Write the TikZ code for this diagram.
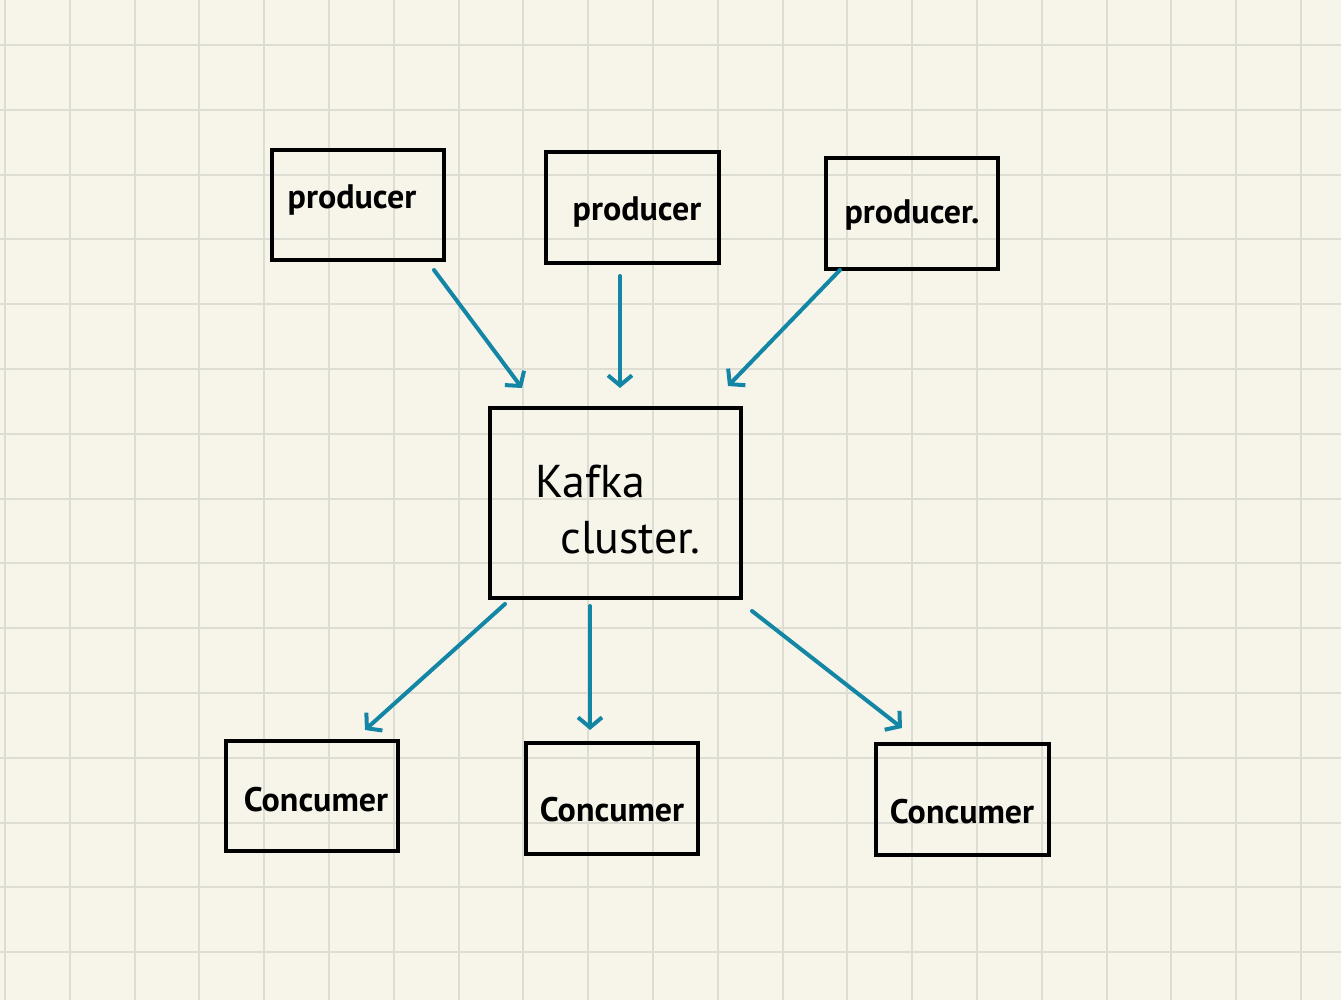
\documentclass[tikz,border=0pt]{standalone}
\usepackage{fontspec}
\setmainfont{PT Sans}
\usetikzlibrary{arrows.meta}
\definecolor{bg}{RGB}{247,245,234}
\definecolor{gridc}{RGB}{222,221,211}
\definecolor{arrc}{RGB}{19,133,165}
\begin{document}
\begin{tikzpicture}[x=1pt,y=-1pt,
  box/.style={draw=black,line width=3.5pt},
  lbl/.style={font=\bfseries\fontsize{34}{38}\selectfont},
  arr/.style={draw=arrc,line width=4pt,line cap=round,-{Straight Barb[length=10pt,width=24pt,line width=4pt]}}]
\useasboundingbox (0,0) rectangle (1341,1000);
\clip (0,0) rectangle (1341,1000);
\fill[bg] (0,0) rectangle (1341,1000);
\foreach \i in {0,...,20} {\draw[gridc,line width=2pt] (5+64.8*\i,0) -- (5+64.8*\i,1000);}
\foreach \i in {0,...,15} {\draw[gridc,line width=2pt] (0,45+64.8*\i) -- (1341,45+64.8*\i);}
\draw[box] (272,150) rectangle (444,260); \node[lbl] (p1) at (352,200) {producer};
\draw[box] (546,152) rectangle (719,263); \node[lbl] (p2) at (637,212) {producer};
\draw[box] (826,158) rectangle (998,269); \node[lbl] (p3) at (912,215) {producer.};
\draw[box] (490,408) rectangle (741,598);
\node[lbl,align=left,font=\fontsize{46}{56}\selectfont] (k) at (618,510) {Kafka\\\ \ cluster.};
\draw[box] (226,741) rectangle (398,851); \node[lbl] (c1) at (316,800) {Concumer};
\draw[box] (526,743) rectangle (698,854); \node[lbl] (c2) at (612,810) {Concumer};
\draw[box] (876,744) rectangle (1049,855); \node[lbl] (c3) at (962,812) {Concumer};
\coordinate (a1) at (434,270); \coordinate (b1) at (522,388);
\coordinate (a2) at (620,276); \coordinate (b2) at (620,388);
\coordinate (a3) at (840,270); \coordinate (b3) at (728,386);
\coordinate (a4) at (505,604); \coordinate (b4) at (365,730);
\coordinate (a5) at (590,606); \coordinate (b5) at (590,730);
\coordinate (a6) at (752,611); \coordinate (b6) at (902,728);
\foreach \n in {1,...,6} {\draw[arr] (a\n) -- (b\n);}
\end{tikzpicture}
\end{document}
